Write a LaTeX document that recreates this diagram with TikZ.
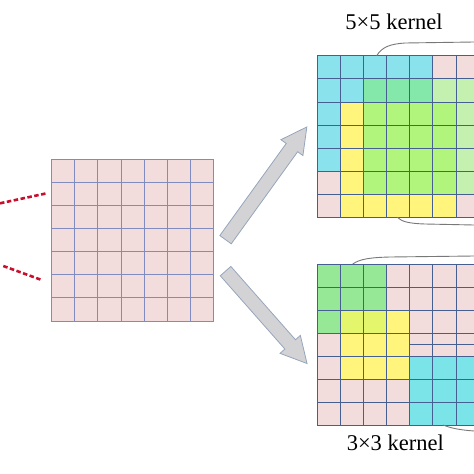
\documentclass[tikz,border=0pt]{standalone}
\usepackage{fontspec}
\setmainfont{Liberation Serif}
\usepackage{tikz}
\usetikzlibrary{shapes.arrows, arrows.meta, positioning, calc}
\definecolor{kp}{RGB}{242,221,220}
\definecolor{kc}{RGB}{138,226,236}
\definecolor{km}{RGB}{132,232,170}
\definecolor{kg}{RGB}{178,245,125}
\definecolor{kl}{RGB}{196,240,176}
\definecolor{ky}{RGB}{255,245,125}
\definecolor{ke}{RGB}{150,232,150}
\definecolor{ko}{RGB}{228,246,108}
\definecolor{kq}{RGB}{122,228,232}
\definecolor{inline}{RGB}{128,140,192}
\definecolor{kline}{RGB}{70,95,145}
\definecolor{myred}{RGB}{200,16,46}
\definecolor{arrfill}{RGB}{211,211,213}
\definecolor{arredge}{RGB}{150,165,188}
\definecolor{bracegray}{RGB}{120,120,120}
\tikzset{
  gridbox/.style={rectangle, draw=none, inner sep=0pt,
    minimum width=161.6pt, minimum height=161.6pt},
  incell/.style={draw=inline, line width=0.8pt},
  kcell/.style={draw=kline, line width=0.8pt},
  reddash/.style={myred, line width=2.6pt, dash pattern=on 4.5pt off 2.5pt},
  bigarrow/.style={single arrow, draw=arredge, fill=arrfill,
    line width=0.8pt, inner xsep=0pt, inner ysep=6.65pt,
    single arrow head extend=6.5pt, single arrow tip angle=56,
    anchor=tail},
  brace/.style={bracegray, line width=0.9pt},
  kname/.style={font=\fontsize{22.5}{27}\selectfont, inner sep=0pt, anchor=base}
}

\begin{document}
\begin{tikzpicture}[x=1pt, y=-1pt]
  \useasboundingbox (0,0) rectangle (474,474);
  \clip (0,0) rectangle (474,474);

  % Feature maps
  \node[gridbox, anchor=north west] (input) at (51.7,159.3) {};
  \node[gridbox, anchor=north west] (big) at (317.3,55.7) {};
  \node[gridbox, anchor=north west, minimum height=161pt] (small) at (317.3,264) {};

  % ── Input map: plain 7x7 ──────────────────────────────────────────────────
  \begin{scope}[shift={(input.north west)}, x=23.09pt, y=-23.09pt]
    \foreach \r in {0,...,6}
      \foreach \c in {0,...,6}
        \fill[kp] (\c,\r) rectangle ++(1,1);
    \foreach \r in {0,...,6}
      \foreach \c in {0,...,6}
        \draw[incell] (\c,\r) rectangle ++(1,1);
  \end{scope}

  % ── 5x5 kernel map ────────────────────────────────────────────────────────
  \begin{scope}[shift={(big.north west)}, x=23.1pt, y=-23.1pt]
    \foreach \cols [count=\r from 0] in
        {{c,c,c,c,c,p,p},{c,c,m,m,m,l,l},{c,y,g,g,g,g,l},{c,y,g,g,g,g,l},
         {c,y,g,g,g,g,l},{p,y,g,g,g,g,l},{p,y,y,y,y,y,p}}
      \foreach \k [count=\c from 0] in \cols
        \fill[k\k] (\c,\r) rectangle ++(1,1);
    \foreach \r in {0,...,6}
      \foreach \c in {0,...,6}
        \draw[kcell] (\c,\r) rectangle ++(1,1);
  \end{scope}

  % ── 3x3 kernel map ────────────────────────────────────────────────────────
  \begin{scope}[shift={(small.north west)}, x=23.1pt, y=-23pt]
    \foreach \cols [count=\r from 0] in
        {{e,e,e,p,p,p,p},{e,e,e,p,p,p,p},{e,o,o,y,p,p,p},{p,y,y,y,p,p,p},
         {p,y,y,y,q,q,q},{p,p,p,p,q,q,q},{p,p,p,p,q,q,q}}
      \foreach \k [count=\c from 0] in \cols
        \fill[k\k] (\c,\r) rectangle ++(1,1);
    \foreach \r in {0,...,6}
      \foreach \c in {0,...,6}
        \draw[kcell] (\c,\r) rectangle ++(1,1);
    \draw[kcell] (4,3.5) -- (7,3.5);
  \end{scope}

  % ── Red dashed leads into the input map ───────────────────────────────────
  \coordinate (lead1) at (0,203.3);
  \coordinate (lead2) at (3.3,266);
  \coordinate (hit1) at ($(input.north west)+(-5,34)$);
  \coordinate (hit2) at ($(input.north west)+(-10,120.7)$);
  \draw[reddash] (lead1) -- (hit1);
  \draw[reddash] (lead2) -- (hit2);

  % ── Block arrows ──────────────────────────────────────────────────────────
  \node[bigarrow, minimum height=139pt, rotate=54.2] (upar) at (225.3,240) {};
  \node[bigarrow, minimum height=123.2pt, rotate=-48.6] (downar) at (225.3,270.8) {};

  % ── Braces ────────────────────────────────────────────────────────────────
  \draw[brace] (376.7,55.7) .. controls (382,47) and (390,44) .. (405,43) -- (474,42);
  \draw[brace] (397.3,217.3) .. controls (402,222) and (410,223.5) .. (425,224) -- (474,225);
  \draw[brace] (352.7,264) .. controls (360,259) and (370,257.5) .. (390,257) -- (474,256);
  \draw[brace] (443.3,425) .. controls (450,428) and (460,430) .. (474,431);

  % Labels
  \node[kname] (lbl5) at (394,29) {5×5 kernel};
  \node[kname] (lbl3) at (395.3,450) {3×3 kernel};
\end{tikzpicture}
\end{document}
